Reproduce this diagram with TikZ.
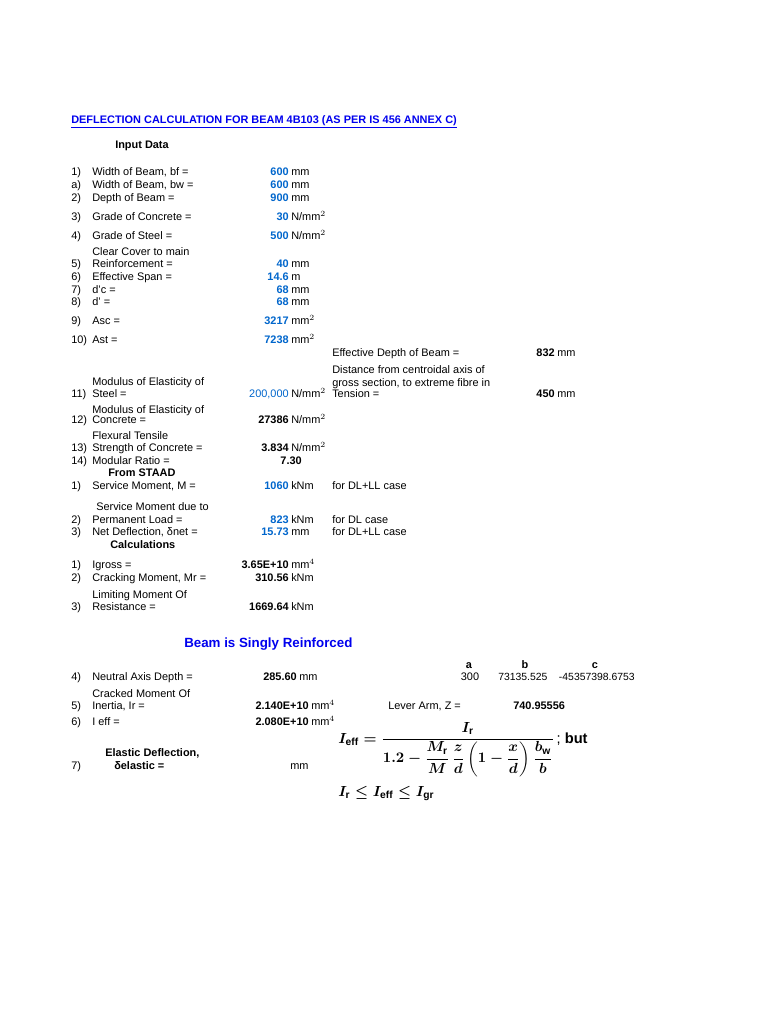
\documentclass[tikz,border=0pt]{standalone}
\usepackage{amsmath}
\usepackage{fontspec}
\setmainfont{Liberation Sans}
\definecolor{vblue}{RGB}{0,102,204}
\definecolor{tblue}{RGB}{0,0,238}
\newcounter{nn}
\newcommand{\T}[3][]{\stepcounter{nn}\node[txt,#1] (n\thenn) at ($(#2)+(0,3.5)$) {#3};}
\newcommand{\R}[3]{\T{71,#1}{#2}\T{92,#1}{#3}}
\newcommand{\V}[4][vblue]{\T[anchor=base east,font=\fs\bfseries,text=#1]{289,#2}{#3}\T{291,#2}{#4}}
\newcommand{\fs}{\fontsize{8.2}{9}\selectfont}
\usetikzlibrary{calc}
\begin{document}
\begin{tikzpicture}[x=0.75pt,y=-0.75pt,
 txt/.style={anchor=base west,inner sep=0pt,font=\fs,text=black}]
\useasboundingbox[fill=white] (0,0) rectangle (768,1024);
\T[text=tblue,font=\fs\bfseries]{71,120}{\underline{DEFLECTION CALCULATION FOR BEAM 4B103 (AS PER IS 456 ANNEX C)}}
\T[font=\fs\bfseries]{115,145}{Input Data}
\R{172}{1)}{Width of Beam, bf =}\V{172}{600}{mm}
\R{185}{a)}{Width of Beam, bw =}\V{185}{600}{mm}
\R{198}{2)}{Depth of Beam =}\V{198}{900}{mm}
\R{217}{3)}{Grade of Concrete =}\V{217}{30}{N/mm$^2$}
\R{236}{4)}{Grade of Steel =}\V{236}{500}{N/mm$^2$}
\T{92,252}{Clear Cover to main}
\R{264}{5)}{Reinforcement =}\V{264}{40}{mm}
\R{277}{6)}{Effective Span =}\V{277}{14.6}{m}
\R{290}{7)}{d'c =}\V{290}{68}{mm}
\R{302}{8)}{d' =}\V{302}{68}{mm}
\R{321}{9)}{Asc =}\V{321}{3217}{mm$^2$}
\R{340}{10)}{Ast =}\V{340}{7238}{mm$^2$}
\T{332,353}{Effective Depth of Beam =}
\T[anchor=base east,font=\fs\bfseries]{555,353}{832}\T{557,353}{mm}
\T{332,370}{Distance from centroidal axis of}
\T{332,383}{gross section, to extreme fibre in}
\T{332,394}{Tension =}
\T[anchor=base east,font=\fs\bfseries]{555,394}{450}\T{557,394}{mm}
\T{92,382}{Modulus of Elasticity of}
\R{394}{11)}{Steel =}
\T[anchor=base east,text=vblue]{289,394}{200,000}\T{291,394}{N/mm$^2$}
\T{92,410}{Modulus of Elasticity of}
\R{420}{12)}{Concrete =}\V[black]{420}{27386}{N/mm$^2$}
\T{92,436}{Flexural Tensile}
\R{448}{13)}{Strength of Concrete =}\V[black]{448}{3.834}{N/mm$^2$}
\R{461}{14)}{Modular Ratio =}
\T[anchor=base east,font=\fs\bfseries]{302,461}{7.30}
\T[font=\fs\bfseries]{108,473}{From STAAD}
\R{486}{1)}{Service Moment, M =}\V{486}{1060}{kNm}\T{332,486}{for DL+LL case}
\T{96,507}{Service Moment due to}
\R{520}{2)}{Permanent Load =}\V{520}{823}{kNm}\T{332,520}{for DL case}
\R{532}{3)}{Net Deflection, δnet =}\V{532}{15.73}{mm}\T{332,532}{for DL+LL case}
\T[font=\fs\bfseries]{110,545}{Calculations}
\R{565}{1)}{Igross =}\V[black]{565}{3.65E+10}{mm$^4$}
\R{578}{2)}{Cracking Moment, Mr =}\V[black]{578}{310.56}{kNm}
\T{92,595}{Limiting Moment Of}
\R{607}{3)}{Resistance =}\V[black]{607}{1669.64}{kNm}
\T[text=tblue,font=\fontsize{10}{12}\selectfont\bfseries]{184,644}{Beam is Singly Reinforced}
\T[anchor=base,font=\fs\bfseries]{469,665}{a}
\T[anchor=base,font=\fs\bfseries]{525,665}{b}
\T[anchor=base,font=\fs\bfseries]{595,665}{c}
\R{677}{4)}{Neutral Axis Depth =}
\T[anchor=base east,font=\fs\bfseries]{297,677}{285.60}\T{299,677}{mm}
\T[anchor=base]{470,677}{300}\T[font=\fontsize{7.8}{9}\selectfont]{498,677}{73135.525}
\T[anchor=base east,font=\fontsize{7.8}{9}\selectfont]{635,677}{-45357398.6753}
\T{92,694}{Cracked Moment Of}
\R{706}{5)}{Inertia, Ir =}
\T[anchor=base east,font=\fs\bfseries]{309,706}{2.140E+10}\T{311,706}{mm$^4$}
\T{388,706}{Lever Arm, Z =}
\T[font=\fs\bfseries]{513,706}{740.95556}
\R{722}{6)}{I eff =}
\T[anchor=base east,font=\fs\bfseries]{309,722}{2.080E+10}\T{311,722}{mm$^4$}
\T[font=\fs\bfseries]{105,753}{Elastic Deflection,}
\T{71,766}{7)}\T[font=\fs\bfseries]{114,766}{δelastic =}
\T{290,766}{mm}
\T[anchor=west,font=\fontsize{11}{13}\selectfont\boldmath]{338,746}{$I_{\mathrm{eff}}=\dfrac{I_{\mathrm{r}}}{1.2-\dfrac{M_{\mathrm{r}}}{M}\,\dfrac{z}{d}\left(1-\dfrac{x}{d}\right)\dfrac{b_{\mathrm{w}}}{b}}$\,; \textbf{but}}
\T[anchor=west,font=\fontsize{11}{13}\selectfont\boldmath]{338,790}{$I_{\mathrm{r}}\le I_{\mathrm{eff}}\le I_{\mathrm{gr}}$}
\end{tikzpicture}
\end{document}
